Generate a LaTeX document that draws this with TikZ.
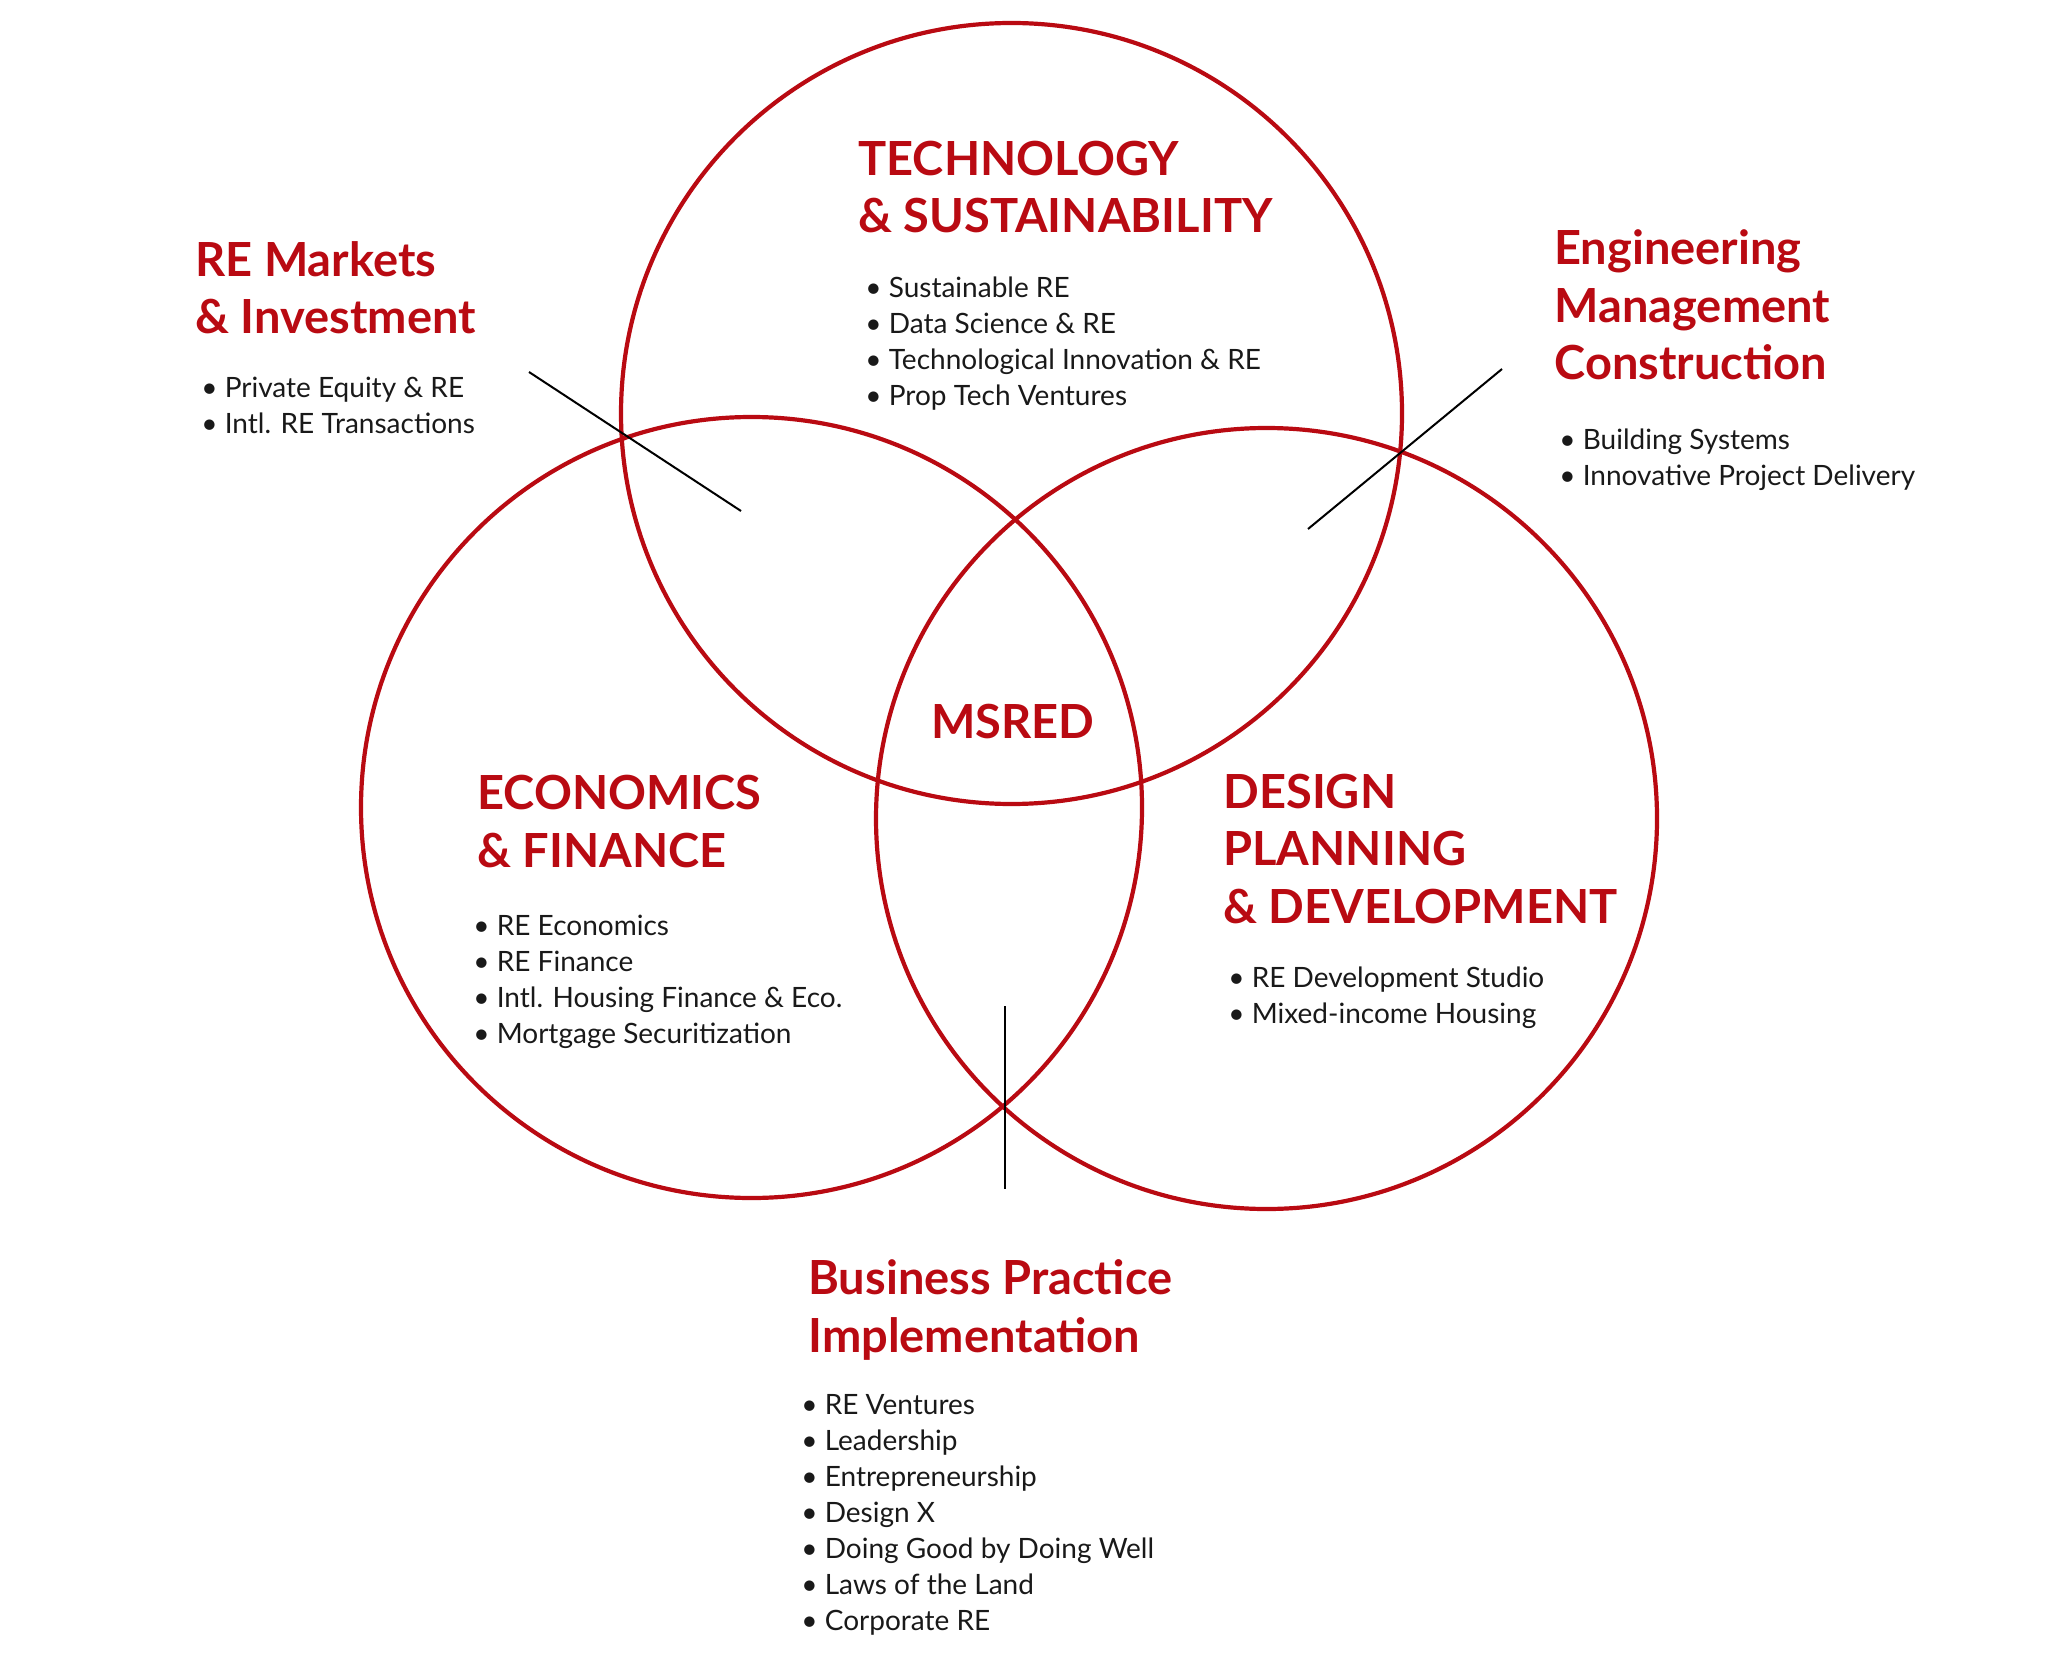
\documentclass[tikz,border=0pt]{standalone}
\usepackage{fontspec}
\setmainfont{Lato}
\definecolor{msred}{RGB}{185,10,18}
\tikzset{
  ring/.style={draw=msred, line width=2.1pt},
  tick/.style={draw=black, line width=1pt},
  head/.style={anchor=base west, inner sep=0pt, align=left, text=msred,
    font=\bfseries\fontsize{23.5}{28.75}\selectfont},
  items/.style={anchor=base west, inner sep=0pt, align=left, text=black!90,
    font=\fontsize{14}{18}\selectfont}
}
\begin{document}
\begin{tikzpicture}[x=0.5pt, y=-0.5pt]
    \useasboundingbox (0,0) rectangle (2048,1679);

    % Circles
    \coordinate (ctech) at (1011.5,413.5);
    \coordinate (cecon) at (751.5,807.5);
    \coordinate (cdes) at (1266.5,818.5);
    \draw[ring] (ctech) circle[radius=195.25pt];
    \draw[ring] (cecon) circle[radius=195.25pt];
    \draw[ring] (cdes) circle[radius=195.25pt];

    % Ticks
    \coordinate (rea) at (529,372);
    \coordinate (reb) at (741,511);
    \coordinate (enga) at (1502,369);
    \coordinate (engb) at (1308,529);
    \coordinate (busa) at (1005,1006);
    \coordinate (busb) at (1005,1189);
    \draw[tick] (rea) -- (reb);
    \draw[tick] (enga) -- (engb);
    \draw[tick] (busa) -- (busb);

    % Headings (placed at the baseline of the last line)
    \node[head] (tech) at (858,233) {TECHNOLOGY\\\& SUSTAINABILITY};
    \node[head] (remkt) at (195,334) {RE Markets\\\& Investment};
    \node[head] (eng) at (1554,380) {Engineering\\Management\\Construction};
    \node[head] (msred) at (931,738) {MSRED};
    \node[head] (econ) at (477,867) {ECONOMICS\\\& FINANCE};
    \node[head] (des) at (1223,923) {DESIGN\\PLANNING\\\& DEVELOPMENT};
    \node[head] (bus) at (808,1352) {Business Practice\\Implementation};

    % Lists
    \node[items] (techlist) at (865,406) {• Sustainable RE\\• Data Science \& RE\\• Technological Innovation \& RE\\• Prop Tech Ventures};
    \node[items] (remktlist) at (201,434) {• Private Equity \& RE\\• Intl. RE Transactions};
    \node[items] (englist) at (1559,486) {• Building Systems\\• Innovative Project Delivery};
    \node[items] (econlist) at (473,1043) {• RE Economics\\• RE Finance\\• Intl. Housing Finance \& Eco.\\• Mortgage Securitization};
    \node[items] (deslist) at (1228,1023) {• RE Development Studio\\• Mixed-income Housing};
    \node[items] (buslist) at (801,1630) {• RE Ventures\\• Leadership\\• Entrepreneurship\\• Design X\\• Doing Good by Doing Well\\• Laws of the Land\\• Corporate RE};
\end{tikzpicture}
\end{document}
